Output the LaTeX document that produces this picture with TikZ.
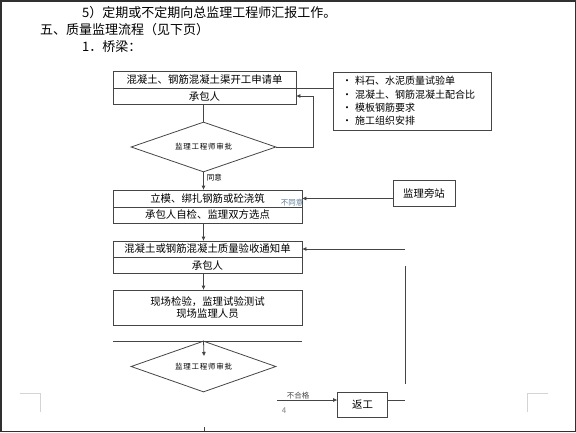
\documentclass[tikz,border=0pt]{standalone}
\usepackage{fontspec}
\setmainfont{Noto Sans CJK SC}
\usetikzlibrary{shapes.geometric,arrows.meta,calc}
\definecolor{ln}{HTML}{454545}
\definecolor{frame}{HTML}{303030}
\definecolor{crop}{HTML}{D4D4D4}
\definecolor{lbl}{HTML}{5C7A96}
\begin{document}
\begin{tikzpicture}[x=1pt,y=-1pt,
  box/.style={draw=ln, line width=0.8pt, inner sep=0pt, align=center,
    font=\fontsize{10.4}{12.5}\selectfont},
  dia/.style={draw=ln, line width=0.8pt, diamond, inner sep=0pt, aspect=2.9,
    minimum width=145pt, minimum height=50pt,
    font=\fontsize{7.5}{8}\selectfont\addfontfeature{LetterSpace=10}},
  con/.style={draw=ln, line width=0.8pt},
  arr/.style={con, -{Triangle[length=4pt,width=3.5pt]}},
  small/.style={inner sep=0pt, font=\fontsize{7.5}{8}\selectfont},
  toptext/.style={anchor=west, inner sep=0pt, font=\fontsize{13}{13}\selectfont}
]
\useasboundingbox (0,0) rectangle (576,432);
% page frame
\draw[frame, line width=1.5pt] (0.75,0.75) rectangle (575.25,431.25);
% crop marks
\draw[crop, line width=1pt] (20,393) -- (40,393) -- (40,412);
\draw[crop, line width=1pt] (548,393) -- (527,393) -- (527,412);

% heading text
\node[toptext] (t1) at (82,13) {5）定期或不定期向总监理工程师汇报工作。};
\node[toptext] (t2) at (40,30) {五、质量监理流程（见下页）};
\node[toptext] (t3) at (82,47) {1．桥梁：};

% box 1
\node[box, minimum width=183pt, minimum height=17pt] (b1t) at (204.5,79.5) {混凝土、钢筋混凝土渠开工申请单};
\node[box, minimum width=183pt, minimum height=16pt] (b1b) at (204.5,96) {承包人};
% list box
\node[draw=ln, line width=0.8pt, minimum width=158pt, minimum height=58pt,
  text width=140pt, inner xsep=9pt, inner ysep=0pt, align=left,
  font=\fontsize{10}{13.3}\selectfont] (lst) at (412,101)
  {•\hspace{3pt}料石、水泥质量试验单\\•\hspace{3pt}混凝土、钢筋混凝土配合比\\•\hspace{3pt}模板钢筋要求\\•\hspace{3pt}施工组织安排};
% diamond 1
\node[dia] (d1) at (203.5,147) {监理工程师审批};
% box 2
\node[box, minimum width=189pt, minimum height=17pt] (b2t) at (207.5,198.5) {立模、绑扎钢筋或砼浇筑};
\node[box, minimum width=189pt, minimum height=16pt] (b2b) at (207.5,215) {承包人自检、监理双方选点};
% pangzhan
\node[box, minimum width=62pt, minimum height=26pt] (pz) at (424,193) {监理旁站};
% box 3
\node[box, minimum width=189pt, minimum height=16pt] (b3t) at (207.5,249) {混凝土或钢筋混凝土质量验收通知单};
\node[box, minimum width=189pt, minimum height=16pt] (b3b) at (207.5,265) {承包人};
% box 4
\node[box, minimum width=189pt, minimum height=35pt] (b4) at (207.5,307.5) {现场检验，监理试验测试\\现场监理人员};
% diamond 2
\node[dia, minimum height=51pt] (d2) at (203.5,366.5) {监理工程师审批};
% fangong
\node[box, minimum width=50pt, minimum height=25pt] (fg) at (362.5,404.5) {返工};

% free coordinates
\coordinate (loopc) at (313,147);
\coordinate (r1) at (405,249);
\coordinate (v1a) at (405,266);
\coordinate (v1b) at (405,384);
\coordinate (hl1) at (113,341);
\coordinate (hl2) at (302,341);
\coordinate (d2in) at (204,356);
\coordinate (stub1) at (204,427);
\coordinate (stub2) at (204,431);
\coordinate (ng) at (277,400);
\coordinate (fgr) at (405,400.5);

% connectors
\draw[con] (b1b.south -| d1.north) -- (d1.north);
\draw[arr] (d1.east) -- (loopc) -- (loopc |- b1b.east) -- (b1b.east);
\draw[con] (b1t.south east) -- (b1t.south east -| lst.west);
\draw[arr] (d1.south) -- (d1.south |- b2t.north) node[small, anchor=west, pos=0.3, xshift=3pt] (ty) {同意};
\draw[arr] (pz.west |- b2t.east) -- (b2t.east);
\node[small, text=lbl] (bty) at (292,203) {不同意};
\draw[arr] (b2b.south -| d1.south) -- (b3t.north -| d1.south);
\draw[arr] (r1) -- (b3t.east);
\draw[con] (v1a) -- (v1b);
\draw[arr] (b3b.south -| d1.south) -- (b4.north -| d1.south);
\draw[con] (hl1) -- (hl2);
\draw[arr] (d2.north) -- (d2in);
\draw[con] (stub1) -- (stub2);
\draw[arr] (ng) -- (ng -| fg.west);
\node[small, text=ln] (bhg) at (298,395.5) {不合格};
\draw[con] (fg.east |- fgr) -- (fgr);
\node[inner sep=0pt, text=gray, font=\fontsize{8}{8}\selectfont] (pg) at (284,411) {4};
\end{tikzpicture}
\end{document}
